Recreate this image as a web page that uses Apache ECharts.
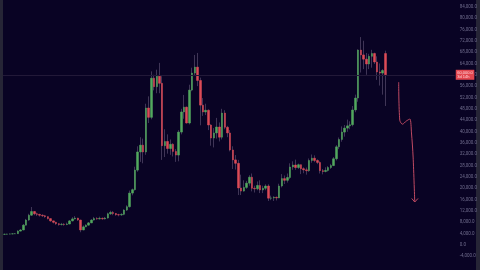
<!DOCTYPE html>
<html>
<head>
<meta charset="utf-8">
<script src="https://cdn.jsdelivr.net/npm/echarts@6/dist/echarts.min.js"></script>
<style>
  html, body { margin: 0; padding: 0; background: #090324; }
  #chart { width: 480px; height: 270px; }
</style>
</head>
<body>
<div id="chart"></div>
<script>
// candle values (USD)
const opens = [
  3750, 3800, 3850, 3900, 3950, 4000, 4900, 5300, 7000, 8800,
  10500, 11800, 11000, 10800, 10500, 10300, 10000, 9300, 8500, 8000,
  7500, 7200, 7300, 7200, 7400, 8500, 9200, 9500, 8800, 5300,
  6400, 7000, 7800, 8800, 9300, 9200, 9400, 9200, 9500, 11000,
  11500, 11100, 10700, 10600, 10800, 12300, 13500, 18300, 19500, 26400,
  32800, 35200, 32800, 48300, 45000, 58800, 55800, 59500, 57000, 35000,
  36500, 34000, 35500, 33000, 31700, 39800, 46900, 48600, 43000, 54600,
  60600, 62700, 58000, 49300, 46900, 47500, 42300, 37700, 39500, 41600,
  38000, 46500, 41500, 39500, 33500, 30000, 28800, 20100, 19000, 20300,
  21800, 23900, 20000, 19800, 21000, 19400, 20000, 20800, 16500, 16600,
  16800, 16600, 20800, 23400, 22800, 23800, 27500, 28200, 27300, 28300,
  26900, 26500, 26200, 29800, 30600, 29800, 29100, 26200, 25900, 26300,
  27300, 28000, 30400, 34600, 37200, 39800, 41200, 42000, 42400, 47600,
  51800, 68700, 67000, 65500, 63800, 66500, 67500, 64500, 61000, 60600,
  67500
];
const closes = [
  3800, 3850, 3900, 3950, 4000, 4900, 5300, 7000, 8800, 10500,
  11800, 11000, 10800, 10500, 10300, 10000, 9300, 8500, 8000, 7500,
  7200, 7300, 7200, 7400, 8500, 9200, 9500, 8800, 5300, 6400,
  7000, 7800, 8800, 9300, 9200, 9400, 9200, 9500, 11000, 11500,
  11100, 10700, 10600, 10800, 12300, 13500, 18300, 19500, 26400, 32800,
  35200, 32800, 48300, 45000, 58800, 55800, 59500, 57000, 35000, 36500,
  34000, 35500, 33000, 31700, 39800, 46900, 48600, 43000, 54600, 60600,
  62700, 58000, 49300, 46900, 47500, 42300, 37700, 39500, 41600, 38000,
  46500, 41500, 39500, 33500, 30000, 28800, 20100, 19000, 20300, 21800,
  23900, 20000, 19800, 21000, 19400, 20000, 20800, 16500, 16600, 16800,
  16600, 20800, 23400, 22800, 23800, 27500, 28200, 27300, 28300, 26900,
  26500, 26200, 29800, 30600, 29800, 29100, 26200, 25900, 26300, 27300,
  28000, 30400, 34600, 37200, 39800, 41200, 42000, 42400, 47600, 51800,
  68700, 67000, 65500, 63800, 66500, 67500, 64500, 61000, 60600, 61500,
  60000
];
const highs = [
  4000, 4000, 4050, 4100, 4200, 5200, 5600, 7400, 9200, 11000,
  13400, 12000, 11400, 11000, 10800, 10600, 10100, 9400, 8600, 8200,
  7700, 7800, 7700, 7900, 8800, 9800, 10200, 9600, 8900, 6900,
  7300, 8100, 9100, 9900, 9800, 10000, 9700, 9900, 11400, 12100,
  12000, 11300, 11000, 11200, 12600, 14000, 19200, 19900, 27600, 34800,
  38000, 37500, 49800, 52400, 61200, 60000, 61800, 64200, 59500, 40800,
  39000, 37200, 35900, 33800, 40500, 48000, 52900, 48800, 56500, 62500,
  67000, 67700, 59000, 51800, 49800, 47800, 42600, 41200, 44800, 43200,
  48000, 47500, 42000, 40500, 34800, 31700, 30000, 24800, 22800, 22600,
  24600, 25200, 20900, 22400, 22800, 20900, 21400, 21400, 17400, 17200,
  17100, 21600, 25000, 24500, 25200, 28800, 29500, 30100, 28700, 28400,
  27400, 27300, 30500, 31900, 31600, 30200, 29500, 26800, 27400, 27800,
  28600, 31000, 35200, 37900, 41800, 42300, 44200, 43600, 49000, 53000,
  69000, 73300, 72000, 67700, 67400, 68800, 67800, 66500, 64000, 62000,
  68500
];
const lows = [
  3600, 3700, 3750, 3800, 3850, 3950, 4800, 5200, 6900, 8500,
  10300, 10500, 10200, 10000, 9900, 9600, 9000, 8200, 7600, 7100,
  6800, 6900, 6800, 7000, 7300, 8300, 9000, 8500, 4500, 5200,
  6300, 6800, 7700, 8600, 8900, 9000, 8900, 9000, 9300, 10600,
  10500, 10300, 10100, 10300, 10500, 12000, 13200, 17500, 19200, 25800,
  29300, 28800, 31800, 43000, 44300, 54500, 53500, 53500, 30000, 31000,
  32200, 31800, 31200, 29300, 29500, 39000, 44500, 42800, 42500, 54200,
  59800, 56000, 42200, 45500, 45800, 40500, 35000, 34400, 37500, 36500,
  37200, 40800, 38000, 33000, 26800, 26600, 17600, 17600, 18800, 19800,
  20900, 18900, 18500, 19300, 18300, 18300, 19300, 15500, 15800, 15500,
  15700, 16500, 20300, 21500, 22000, 23300, 26500, 26500, 26800, 25000,
  25300, 24800, 25800, 29000, 29200, 28500, 25200, 24900, 25600, 25900,
  26800, 27800, 29800, 33800, 36400, 38200, 39900, 40800, 41800, 46800,
  50500, 60800, 62000, 60000, 62000, 62500, 63800, 58200, 56200, 53000,
  49000
];
// hand-drawn red arrow: [bar index, price]
const arrowPath = [
  [144.9, 57400], [145.3, 44000], [146.3, 42600], [147.7, 43700],
  [149.0, 44400], [149.6, 39500], [150.2, 31000], [150.8, 15150]
];
const arrowHead = [[149.7, 16400], [150.8, 15150], [152.0, 16400]];
const lastPrice = 60000;
const priceTag = '60,000.0\n3d 14h';
const slotCount = 166;

const categories = [];
for (let i = 0; i < slotCount; i++) categories.push(i);

const wickData = opens.map((o, i) => [o, closes[i], lows[i], highs[i]]);
// body only: low/high = body edges so the dim wick stays visible outside it
const bodyData = opens.map((o, i) => [o, closes[i], Math.min(o, closes[i]), Math.max(o, closes[i])]);

const fmt = (v) => v.toLocaleString('en-US', { minimumFractionDigits: 1, maximumFractionDigits: 1 });

const chart = echarts.init(document.getElementById('chart'));
chart.setOption({
  backgroundColor: '#090324',
  animation: false,
  grid: { left: 3, right: 25, top: 0, bottom: 2.3 },
  xAxis: [
    { type: 'category', data: categories, show: false },
    { type: 'value', min: -0.5, max: slotCount - 0.5, show: false }
  ],
  yAxis: {
    type: 'value',
    position: 'right',
    min: -8000,
    max: 86360,
    interval: 4000,
    axisLine: { show: false },
    axisTick: { show: false },
    splitLine: { show: false },
    axisLabel: {
      showMinLabel: false,
      showMaxLabel: false,
      margin: 5,
      color: '#6f6c8c',
      fontSize: 4.5,
      fontFamily: 'Roboto',
      formatter: fmt
    }
  },
  graphic: [
    { type: 'rect', left: 0, top: 0, shape: { width: 3, height: 270 }, style: { fill: '#262536' } },
    { type: 'rect', right: 0, top: 0, shape: { width: 4, height: 270 }, style: { fill: '#262536' } }
  ],
  series: [
    {
      name: 'wick',
      type: 'candlestick',
      data: wickData,
      barWidth: 1,
      silent: true,
      itemStyle: {
        color: 'transparent', color0: 'transparent',
        borderColor: '#3f3556', borderColor0: '#3f3556', borderWidth: 1
      },
      markLine: {
        symbol: 'none',
        silent: true,
        lineStyle: { color: '#221938', type: 'solid', width: 1 },
        label: {
          position: 'end',
          distance: 1,
          formatter: priceTag,
          color: '#ffd6da',
          backgroundColor: '#e2464f',
          fontSize: 4,
          lineHeight: 4.5,
          padding: [0.5, 1.5]
        },
        data: [{ yAxis: lastPrice }]
      }
    },
    {
      name: 'body',
      type: 'candlestick',
      data: bodyData,
      barWidth: 2,
      itemStyle: {
        color: '#52a85e', color0: '#dc4b57',
        borderColor: '#52a85e', borderColor0: '#dc4b57', borderWidth: 0.5
      }
    },
    {
      name: 'arrow',
      type: 'line',
      xAxisIndex: 1,
      data: arrowPath,
      symbol: 'none',
      smooth: 0.3,
      lineStyle: { color: '#c04a62', width: 1 }
    },
    {
      name: 'arrowHead',
      type: 'line',
      xAxisIndex: 1,
      data: arrowHead,
      symbol: 'none',
      lineStyle: { color: '#c04a62', width: 1 }
    }
  ]
});
</script>
</body>
</html>
